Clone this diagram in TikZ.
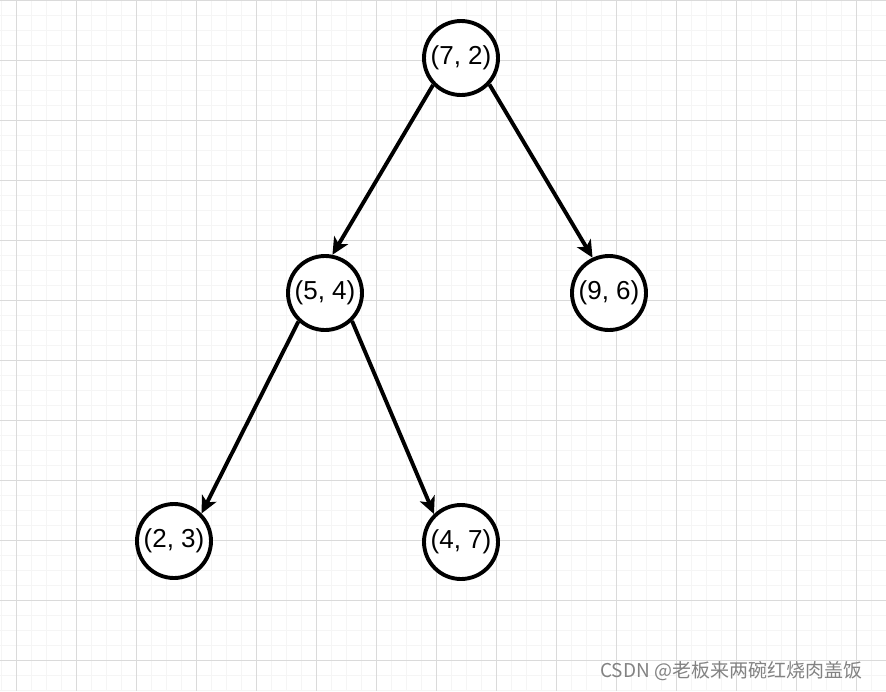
\documentclass[tikz,border=0pt]{standalone}
\usepackage{fontspec}
\setmainfont{Liberation Sans}
\newfontfamily\cjkfont{Noto Sans CJK SC}
\usetikzlibrary{arrows.meta}
\definecolor{minorgrid}{RGB}{245,245,245}
\definecolor{majorgrid}{RGB}{218,218,218}
\definecolor{wmark}{RGB}{130,130,130}
\tikzset{
  treenode/.style={circle, draw=black, line width=3.9pt, fill=white, minimum size=74pt, inner sep=0pt, font=\fontsize{26}{31}\selectfont},
  edge/.style={draw=black, line width=3.9pt, -{Stealth[length=17pt,width=16pt,inset=4.5pt]}},
  minorline/.style={draw=minorgrid, line width=1pt},
  majorline/.style={draw=majorgrid, line width=1pt}
}
\begin{document}
\begin{tikzpicture}[x=1pt,y=-1pt]
\useasboundingbox (0,0) rectangle (886,691);
\fill[white] (0,0) rectangle (886,691);
% minor grid
\foreach \i in {-1,...,59} \draw[minorline] ({16+15*\i},0) -- ({16+15*\i},691);
\foreach \j in {0,...,46} \draw[minorline] (0,{15*\j}) -- (886,{15*\j});
% major grid
\foreach \i in {0,...,14} \draw[majorline] ({16+60*\i},0) -- ({16+60*\i},691);
\foreach \j in {0,...,11} \draw[majorline] (0,{60*\j}) -- (886,{60*\j});
% nodes
\node[treenode] (n72) at (461,58) {(7, 2)};
\node[treenode] (n54) at (325,293) {(5, 4)};
\node[treenode] (n96) at (609,293) {(9, 6)};
\node[treenode] (n23) at (174,541) {(2, 3)};
\node[treenode] (n47) at (461,542) {(4, 7)};
% edges
\draw[edge] (n72.224) -- (n54.79);
\draw[edge] (n72.317) -- (n96.115);
\draw[edge] (n54.227) -- (n23.45);
\draw[edge] (n54.314) -- (n47.134);
% watermark
\node[anchor=west, text=wmark, inner sep=0pt, font=\cjkfont\fontsize{19}{23}\selectfont] (wm) at (600,671) {CSDN @老板来两碗红烧肉盖饭};
\end{tikzpicture}
\end{document}
